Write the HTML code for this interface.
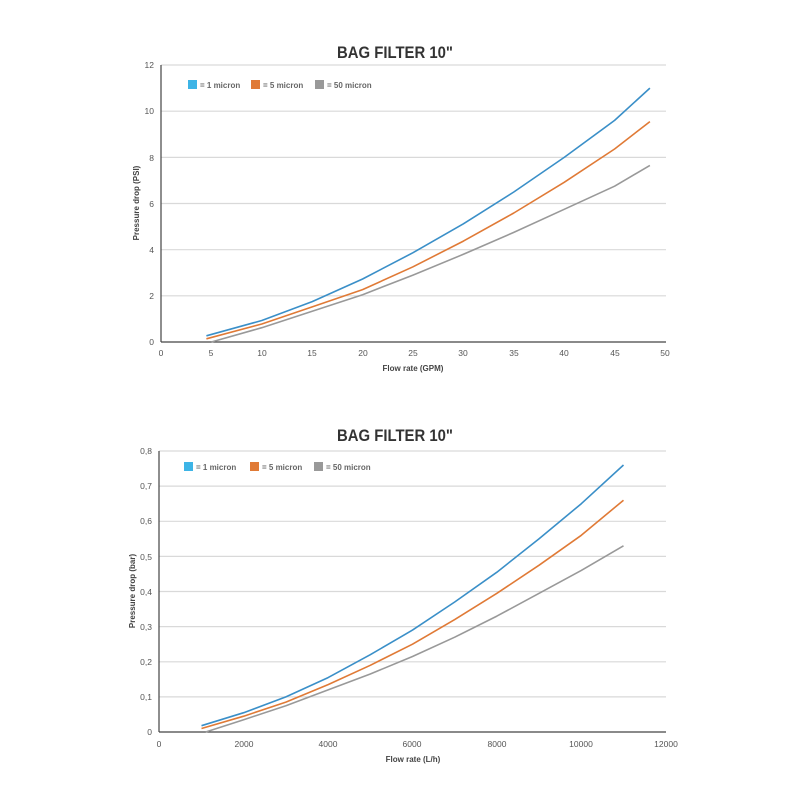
<!DOCTYPE html>
<html><head><meta charset="utf-8"><style>body{margin:0;background:#fff}svg{display:block}text{font-family:"Liberation Sans",sans-serif}</style></head><body>
<svg width="800" height="800" viewBox="0 0 800 800" xmlns="http://www.w3.org/2000/svg">
<rect width="800" height="800" fill="#fff"/>
<!-- TOP CHART -->
<text x="395" y="58" text-anchor="middle" font-size="17" font-weight="bold" fill="#333" textLength="116" lengthAdjust="spacingAndGlyphs">BAG FILTER 10"</text>
<g stroke="#d9d9d9" stroke-width="1.2">
<line x1="161" y1="295.8" x2="666" y2="295.8"/><line x1="161" y1="249.7" x2="666" y2="249.7"/>
<line x1="161" y1="203.5" x2="666" y2="203.5"/><line x1="161" y1="157.4" x2="666" y2="157.4"/>
<line x1="161" y1="111.2" x2="666" y2="111.2"/><line x1="161" y1="65" x2="666" y2="65"/>
</g>
<g stroke="#444" stroke-width="1.2"><line x1="161" y1="65" x2="161" y2="342"/><line x1="161" y1="342" x2="666" y2="342"/></g>
<g font-size="8.5" fill="#555" text-anchor="end">
<text x="154" y="345">0</text><text x="154" y="299">2</text><text x="154" y="253">4</text><text x="154" y="207">6</text><text x="154" y="161">8</text><text x="154" y="114">10</text><text x="154" y="68">12</text></g>
<g font-size="8.5" fill="#555" text-anchor="middle">
<text x="161" y="356">0</text><text x="211" y="356">5</text><text x="262" y="356">10</text><text x="312" y="356">15</text><text x="363" y="356">20</text><text x="413" y="356">25</text><text x="463" y="356">30</text><text x="514" y="356">35</text><text x="564" y="356">40</text><text x="615" y="356">45</text><text x="665" y="356">50</text></g>
<text x="413" y="371" text-anchor="middle" font-size="8" font-weight="bold" fill="#444">Flow rate (GPM)</text>
<text transform="translate(139,203) rotate(-90)" text-anchor="middle" font-size="8" font-weight="bold" fill="#444">Pressure drop (PSI)</text>
<rect x="188" y="80" width="9" height="9" fill="#3db4e6"/><text x="200" y="88" font-size="8" font-weight="bold" fill="#666">= 1 micron</text>
<rect x="251" y="80" width="9" height="9" fill="#e07a36"/><text x="263" y="88" font-size="8" font-weight="bold" fill="#666">= 5 micron</text>
<rect x="315" y="80" width="9" height="9" fill="#999"/><text x="327" y="88" font-size="8" font-weight="bold" fill="#666">= 50 micron</text>
<g fill="none" stroke-width="1.6" stroke-linejoin="round">
<polyline stroke="#999" points="211.4,342 261.8,327.7 312.2,311.3 362.6,294.7 413,275.1 463.4,254.3 513.8,232.4 564.2,209.3 614.6,186.2 649.9,165.4"/>
<polyline stroke="#e07a36" points="206.4,338.8 261.8,324 312.2,306.9 362.6,289.6 413,266.8 463.4,241.1 513.8,213 564.2,182.3 614.6,149 649.9,121.6"/>
<polyline stroke="#3a8fc8" points="206.4,335.8 261.8,320.5 312.2,301.6 362.6,279 413,252.7 463.4,223.8 513.8,192 564.2,157.4 614.6,120.4 649.9,88.1"/>
</g>
<!-- BOTTOM CHART -->
<text x="395" y="441" text-anchor="middle" font-size="17" font-weight="bold" fill="#333" textLength="116" lengthAdjust="spacingAndGlyphs">BAG FILTER 10"</text>
<g stroke="#d9d9d9" stroke-width="1.2">
<line x1="159" y1="696.9" x2="666" y2="696.9"/><line x1="159" y1="661.8" x2="666" y2="661.8"/>
<line x1="159" y1="626.6" x2="666" y2="626.6"/><line x1="159" y1="591.5" x2="666" y2="591.5"/>
<line x1="159" y1="556.4" x2="666" y2="556.4"/><line x1="159" y1="521.3" x2="666" y2="521.3"/>
<line x1="159" y1="486.1" x2="666" y2="486.1"/><line x1="159" y1="451" x2="666" y2="451"/>
</g>
<g stroke="#444" stroke-width="1.2"><line x1="159" y1="451" x2="159" y2="732"/><line x1="159" y1="732" x2="666" y2="732"/></g>
<g font-size="8.5" fill="#555" text-anchor="end">
<text x="152" y="735">0</text><text x="152" y="700">0,1</text><text x="152" y="665">0,2</text><text x="152" y="630">0,3</text><text x="152" y="595">0,4</text><text x="152" y="560">0,5</text><text x="152" y="524">0,6</text><text x="152" y="489">0,7</text><text x="152" y="454">0,8</text></g>
<g font-size="8.5" fill="#555" text-anchor="middle">
<text x="159" y="747">0</text><text x="244" y="747">2000</text><text x="328" y="747">4000</text><text x="412" y="747">6000</text><text x="497" y="747">8000</text><text x="581" y="747">10000</text><text x="666" y="747">12000</text></g>
<text x="413" y="762" text-anchor="middle" font-size="8" font-weight="bold" fill="#444">Flow rate (L/h)</text>
<text transform="translate(135,591) rotate(-90)" text-anchor="middle" font-size="8" font-weight="bold" fill="#444">Pressure drop (bar)</text>
<rect x="184" y="462" width="9" height="9" fill="#3db4e6"/><text x="196" y="470" font-size="8" font-weight="bold" fill="#666">= 1 micron</text>
<rect x="250" y="462" width="9" height="9" fill="#e07a36"/><text x="262" y="470" font-size="8" font-weight="bold" fill="#666">= 5 micron</text>
<rect x="314" y="462" width="9" height="9" fill="#999"/><text x="326" y="470" font-size="8" font-weight="bold" fill="#666">= 50 micron</text>
<g fill="none" stroke-width="1.6" stroke-linejoin="round">
<polyline stroke="#999" points="205.7,732 243.7,719.7 285.9,705.7 328.1,689.9 370.3,674 412.5,656.5 454.7,637.2 496.9,616.1 539.1,593.3 581.3,570.4 623.5,545.8"/>
<polyline stroke="#e07a36" points="201.5,728.5 243.7,716.2 285.9,702.1 328.1,684.6 370.3,665.3 412.5,644.2 454.7,619.6 496.9,593.3 539.1,565.2 581.3,535.3 623.5,500.2"/>
<polyline stroke="#3a8fc8" points="201.5,725.7 243.7,712.7 285.9,696.9 328.1,677.6 370.3,654.7 412.5,630.1 454.7,602 496.9,572.2 539.1,538.8 581.3,503.7 623.5,465"/>
</g>
</svg>
</body></html>
